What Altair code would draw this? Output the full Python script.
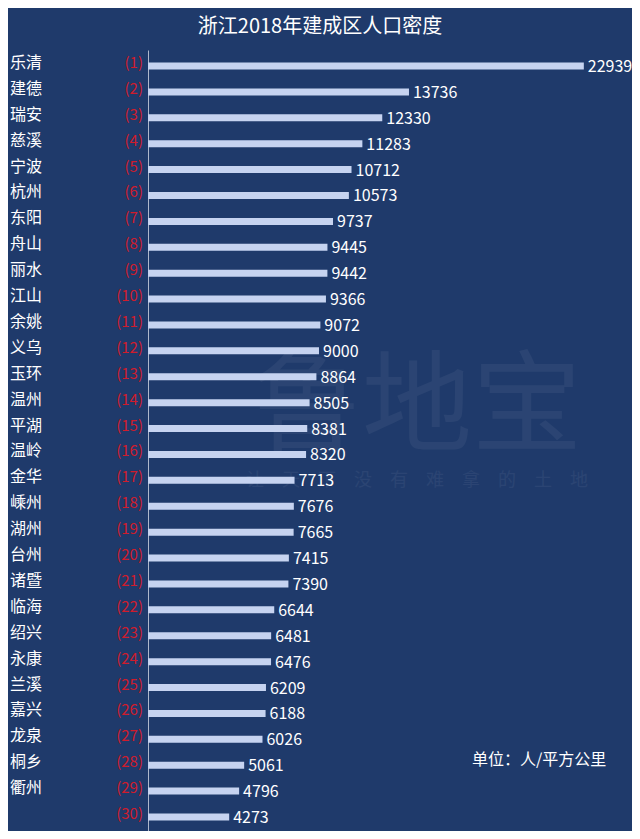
import altair as alt
import pandas as pd

cities = ["乐清", "建德", "瑞安", "慈溪", "宁波", "杭州", "东阳", "舟山", "丽水", "江山",
          "余姚", "义乌", "玉环", "温州", "平湖", "温岭", "金华", "嵊州", "湖州", "台州",
          "诸暨", "临海", "绍兴", "永康", "兰溪", "嘉兴", "龙泉", "桐乡", "衢州", ""]
values = [22939, 13736, 12330, 11283, 10712, 10573, 9737, 9445, 9442, 9366,
          9072, 9000, 8864, 8505, 8381, 8320, 7713, 7676, 7665, 7415,
          7390, 6644, 6481, 6476, 6209, 6188, 6026, 5061, 4796, 4273]
ranks = list(range(1, 31))

df = pd.DataFrame({
    "city": cities,
    "value": values,
    "rank": ranks,
    "rank_label": [f"({r})" for r in ranks],
})

FONT = "Noto Sans CJK SC"
BG = "#1f3a6b"

x_scale = alt.Scale(domain=[0, 25474], nice=False, zero=True, padding=0)
y_scale = alt.Scale(domain=[0.382, 30.54], nice=False, zero=False, reverse=True, padding=0)

base = alt.Chart(df)

bars = base.mark_bar(color="#c6d3f0", height=7, orient="horizontal").encode(
    x=alt.X("value:Q", scale=x_scale, axis=None),
    x2=alt.datum(0),
    y=alt.Y("rank:Q", scale=y_scale,
            axis=alt.Axis(labels=False, ticks=False, grid=False, title=None,
                          domainColor="#aeb8cc", domainWidth=1)),
)

value_text = base.mark_text(align="left", baseline="middle", dx=4, dy=1,
                            font=FONT, fontSize=16, color="white").encode(
    x=alt.X("value:Q", scale=x_scale),
    y=alt.Y("rank:Q", scale=y_scale),
    text="value:Q",
)

name_text = base.mark_text(align="left", baseline="middle", dy=-3,
                           font=FONT, fontSize=16, color="white").encode(
    x=alt.value(-138),
    y=alt.Y("rank:Q", scale=y_scale),
    text="city:N",
)

rank_text = base.mark_text(align="right", baseline="middle", dy=-3,
                           font=FONT, fontSize=15, color="#d01c2c").encode(
    x=alt.value(-5),
    y=alt.Y("rank:Q", scale=y_scale),
    text="rank_label:N",
)

title_df = pd.DataFrame({"t": ["浙江2018年建成区人口密度"]})
title = alt.Chart(title_df).mark_text(align="center", baseline="middle",
                                       font=FONT, fontSize=20, color="white").encode(
    x=alt.value(172), y=alt.value(-23), text="t:N")

unit_df = pd.DataFrame({"t": ["单位：人/平方公里"]})
unit = alt.Chart(unit_df).mark_text(align="left", baseline="middle",
                                     font=FONT, fontSize=16, color="white").encode(
    x=alt.value(324), y=alt.value(710), text="t:N")

wm_df = pd.DataFrame({"t": ["鲁地宝"]})
wm = alt.Chart(wm_df).mark_text(align="center", baseline="middle",
                                 font=FONT, fontSize=110, color="white", opacity=0.05).encode(
    x=alt.value(269), y=alt.value(360), text="t:N")

wm2_df = pd.DataFrame({"t": ["让　天　下　没　有　难　拿　的　土　地"]})
wm2 = alt.Chart(wm2_df).mark_text(align="center", baseline="middle",
                                   font=FONT, fontSize=18, color="white", opacity=0.05).encode(
    x=alt.value(269), y=alt.value(431), text="t:N")

chart = alt.layer(wm, wm2, bars, value_text, name_text, rank_text, title, unit).properties(
    width=484,
    height=781,
    autosize=alt.AutoSizeParams(type="none"),
    padding={"left": 140, "top": 42, "right": 0, "bottom": 0},
    background=BG,
).configure_view(stroke=None)

chart.save("out.html", embed_options={"renderer": "svg", "actions": False})
